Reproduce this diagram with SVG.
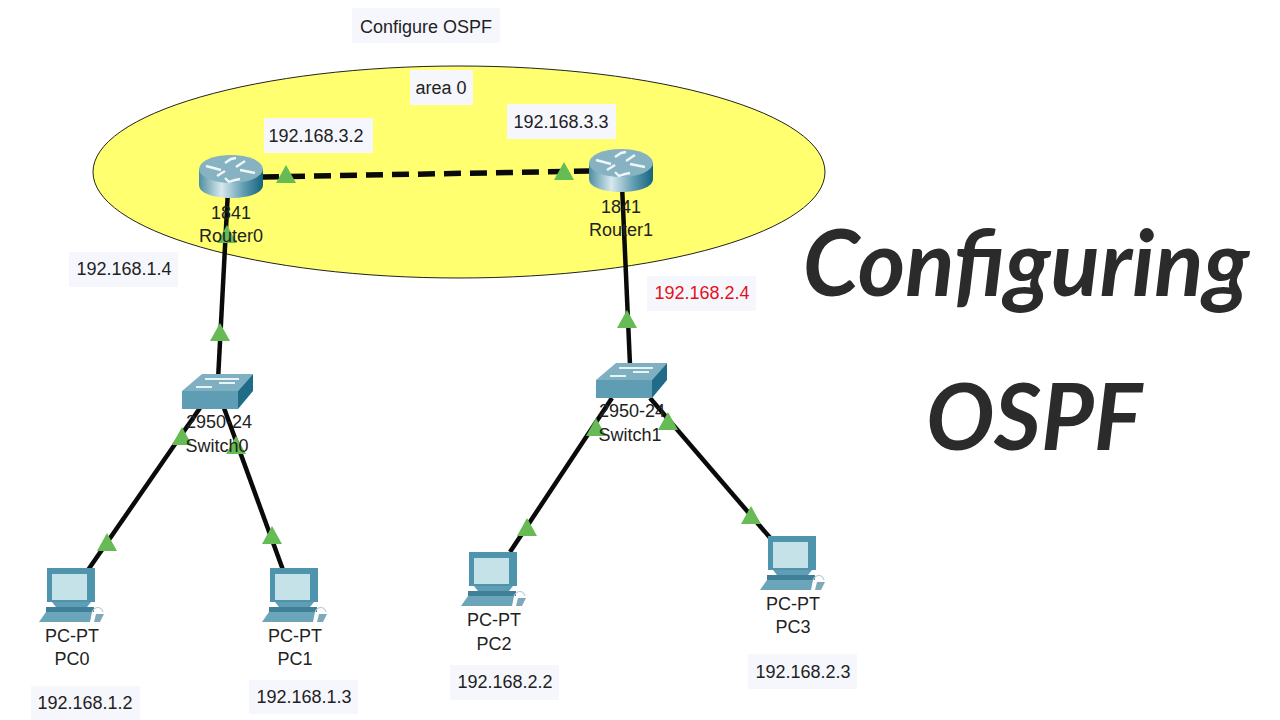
<svg xmlns="http://www.w3.org/2000/svg" width="1280" height="720" viewBox="0 0 1280 720">
<style>
text{font-family:"Liberation Sans",Arial,sans-serif;font-size:18px;fill:#222;text-anchor:middle}
.lb{fill:#f6f7fd}
.link{stroke:#0a0a0a;stroke-width:4.5;fill:none}
.dash{stroke-width:5.5;stroke-dasharray:17 9}
.big{font-family:"Lato","Open Sans",sans-serif;font-style:italic;font-weight:700;font-size:91px;fill:#2b2b2b}
.tri{fill:#66bb55}
</style>
<defs>
<linearGradient id="cyl" x1="0" x2="1" y1="0" y2="0"><stop offset="0" stop-color="#4f8ea3"/><stop offset=".35" stop-color="#d8e9ee"/><stop offset=".7" stop-color="#5f9cb0"/><stop offset="1" stop-color="#15647f"/></linearGradient>
<g id="router">
<path d="M-32-8V8C-32 16-18 21 0 21S32 16 32 8V-8Z" fill="url(#cyl)"/>
<ellipse cx="0" cy="-8" rx="32" ry="14" fill="#86b2c2"/>
<path d="M-25-11-10-7M-6-14 0-18 5-19M24-4 9-7M9 2 4 3-2 5-6 1M-14-1-6-6M14-16 5-10" stroke="#eef6f8" stroke-width="2.4" fill="none"/>
</g>
<g id="switch">
<path d="M-35-4-15-21H36L21-4Z" fill="#7fb0c2"/>
<path d="M-35-4H21V14H-35Z" fill="#5f9db4"/>
<path d="M21-4 36-21V-4L21 14Z" fill="#1f6c88"/>
<path d="M-12-16H22M-21-8H-5M2-12H18" stroke="#e8f3f6" stroke-width="1.8"/>
</g>
<g id="pc">
<path d="M-23-30H25V4H-23Z" fill="#4f94ad"/>
<path d="M-18-24H17V2H-18Z" fill="#c4e2e8"/>
<path d="M-18 4H21L17 9H-14Z" fill="#5f9db4"/>
<path d="M-24 9H24V14H-24Z" fill="#3f8098"/>
<path d="M-24 14H22L20 24H-31Z" fill="#6ba5ba"/>
<path d="M22 14C25 8 31 8 33 14" stroke="#b5ccd4" stroke-width="1.2" fill="none"/>
<path d="M26 16H34L30 24H24Z" fill="#7fa9b8"/>
</g>
<path id="t" d="M-10 8 0-10 10 8Z"/>
</defs>
<rect width="1280" height="720" fill="#fff"/>
<ellipse id="area0" cx="459" cy="172" rx="366" ry="106" fill="#ffff70" stroke="#222" stroke-width="1"/>
<g id="connectors">
<path class="link dash" d="M262 177 590 171"/>
<path class="link" d="M228 190 218 380"/>
<path class="link" d="M622 185 630 365"/>
<path class="link" d="M200 408 88 570"/>
<path class="link" d="M224 408 283 570"/>
<path class="link" d="M612 398 510 552"/>
<path class="link" d="M650 398 772 540"/>
<g class="tri">
<use href="#t" x="286" y="175"/><use href="#t" x="564" y="172"/>
<use href="#t" x="227" y="235"/><use href="#t" x="220" y="333"/>
<use href="#t" x="627" y="320"/><use href="#t" x="182" y="437"/>
<use href="#t" x="236" y="446"/><use href="#t" x="107" y="543"/>
<use href="#t" x="272" y="536"/><use href="#t" x="596" y="428"/>
<use href="#t" x="668" y="422"/><use href="#t" x="527" y="528"/>
<use href="#t" x="751" y="516"/>
</g>
</g>
<g id="Router0"><use href="#router" x="231" y="177"/><text x="231" y="219">1841</text><text x="231" y="242">Router0</text></g>
<g id="Router1"><use href="#router" x="621" y="171"/><text x="621" y="213">1841</text><text x="621" y="236">Router1</text></g>
<g id="Switch0"><use href="#switch" x="217" y="395"/><text x="219" y="428">2950-24</text><text x="217" y="452">Switch0</text></g>
<g id="Switch1"><use href="#switch" x="631" y="384"/><text x="632" y="417">2950-24</text><text x="630" y="441">Switch1</text></g>
<g id="PC0"><use href="#pc" x="70" y="598"/><text x="72" y="642">PC-PT</text><text x="72" y="665">PC0</text></g>
<g id="PC1"><use href="#pc" x="293" y="598"/><text x="295" y="642">PC-PT</text><text x="295" y="665">PC1</text></g>
<g id="PC2"><use href="#pc" x="492" y="582"/><text x="494" y="626">PC-PT</text><text x="494" y="650">PC2</text></g>
<g id="PC3"><use href="#pc" x="791" y="566"/><text x="793" y="610">PC-PT</text><text x="793" y="633">PC3</text></g>
<g id="notes">
<rect class="lb" x="352" y="8" width="148" height="35"/><text x="426" y="33">Configure OSPF</text>
<rect class="lb" x="410" y="70" width="63" height="35"/><text x="441" y="94">area 0</text>
<rect class="lb" x="264" y="118" width="109" height="35"/><text x="316" y="142">192.168.3.2</text>
<rect class="lb" x="507" y="104" width="109" height="35"/><text x="561" y="128">192.168.3.3</text>
<rect class="lb" x="69" y="252" width="109" height="35"/><text x="124" y="275">192.168.1.4</text>
<rect class="lb" x="647" y="276" width="109" height="35"/><text x="702" y="299" style="fill:#e8101a">192.168.2.4</text>
<rect class="lb" x="31" y="686" width="109" height="34"/><text x="85" y="709">192.168.1.2</text>
<rect class="lb" x="249" y="680" width="109" height="34"/><text x="304" y="703">192.168.1.3</text>
<rect class="lb" x="450" y="665" width="109" height="35"/><text x="505" y="688">192.168.2.2</text>
<rect class="lb" x="748" y="654" width="109" height="35"/><text x="803" y="678">192.168.2.3</text>
</g>
<g id="title"><text class="big" x="1026" y="296">Configuring</text><text class="big" x="1034" y="450">OSPF</text></g>
</svg>
